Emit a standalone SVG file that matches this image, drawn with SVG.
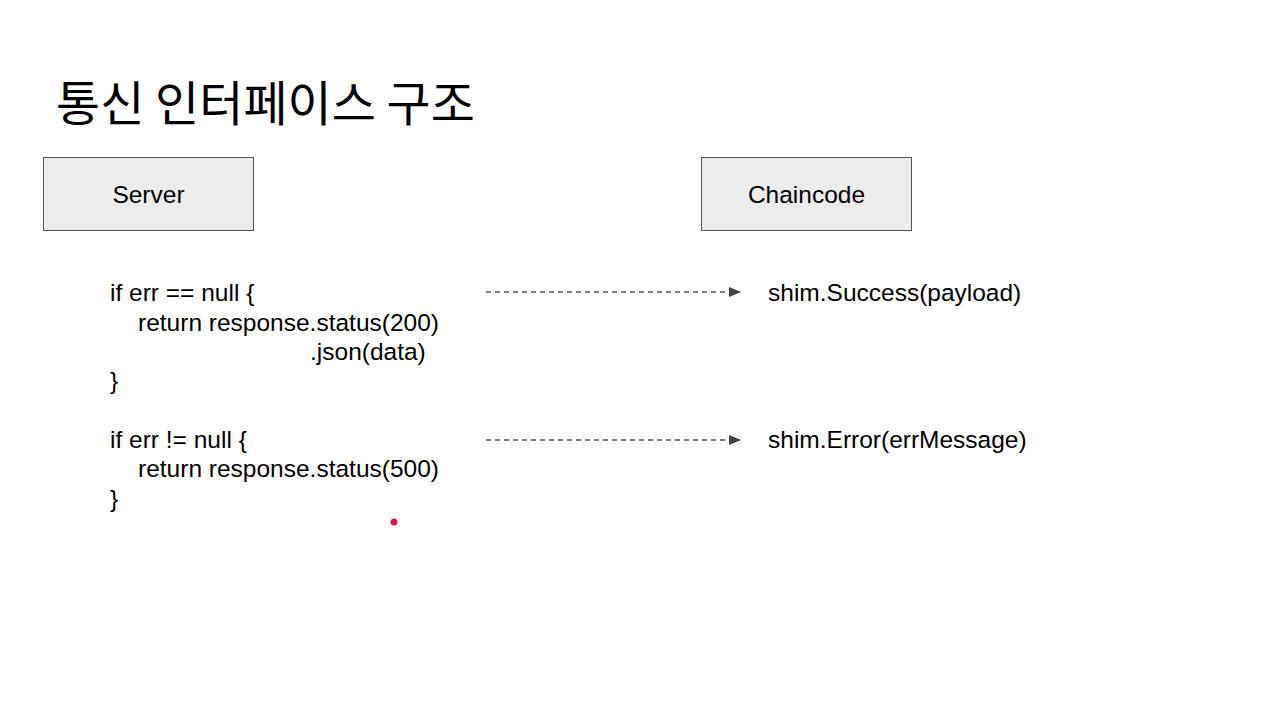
<svg xmlns="http://www.w3.org/2000/svg" width="1280" height="720" viewBox="0 0 1280 720">
<style>
.t{font-family:"Liberation Sans",Arial,sans-serif;font-size:24.5px;fill:#000}
.box{fill:#ececec;stroke:#555;stroke-width:1}
.c{stroke:#555;stroke-width:1.3;stroke-dasharray:5,4;fill:none}
</style>
<defs><marker id="a" markerWidth="12" markerHeight="10" refX="11" refY="5" orient="auto" markerUnits="userSpaceOnUse"><path d="M0,0 L12,5 L0,10 Z" fill="#444"/></marker></defs>
<rect width="1280" height="720" fill="#fff"/>
<text x="56" y="121" font-family="'Noto Sans CJK KR',sans-serif" font-size="48" fill="#000">통신 인터페이스 구조</text>
<g id="server"><rect class="box" x="43.5" y="157.5" width="210" height="73"/><text class="t" x="148.5" y="203" text-anchor="middle">Server</text></g>
<g id="chaincode"><rect class="box" x="701.5" y="157.5" width="210" height="73"/><text class="t" x="806.5" y="203" text-anchor="middle">Chaincode</text></g>
<g id="code">
<text class="t" x="110" y="301">if err == null {</text>
<text class="t" x="138" y="331">return response.status(200)</text>
<text class="t" x="310" y="360">.json(data)</text>
<text class="t" x="110" y="389">}</text>
<text class="t" x="110" y="448">if err != null {</text>
<text class="t" x="138" y="477">return response.status(500)</text>
<text class="t" x="110" y="507">}</text>
<text class="t" x="768" y="301">shim.Success(payload)</text>
<text class="t" x="768" y="448">shim.Error(errMessage)</text>
</g>
<g id="connectors">
<line class="c" x1="486" y1="292" x2="740" y2="292" marker-end="url(#a)"/>
<line class="c" x1="486" y1="440" x2="740" y2="440" marker-end="url(#a)"/>
</g>
<circle cx="394" cy="522" r="3.5" fill="#e0134a"/>
</svg>
